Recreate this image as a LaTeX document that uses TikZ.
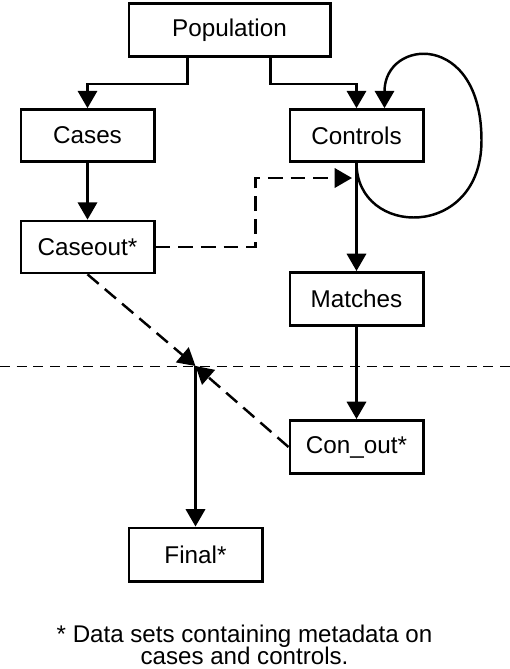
\documentclass[tikz,border=0pt]{standalone}
\usepackage{fontspec}
\setmainfont{Liberation Sans}
\usetikzlibrary{arrows.meta,calc,positioning}

\newcommand{\notefont}{\fontsize{18.1}{16.5}\selectfont\lineskiplimit-8pt\relax}

\tikzset{
  box/.style={draw, line width=2pt, minimum width=100pt, minimum height=39pt, inner sep=0pt, font=\fontsize{18.2}{21}\selectfont},
  flow/.style={line width=1.85pt, -{Triangle[length=13pt,width=14.5pt]}},
  link/.style={flow, dash pattern=on 11pt off 6pt},
  divider/.style={line width=0.7pt, dash pattern=on 7.5pt off 5pt},
}

\begin{document}
\begin{tikzpicture}[x=0.75pt,y=-0.75pt]
            \useasboundingbox (0,0) rectangle (510,669);

            \node[box, minimum width=151pt, minimum height=40pt] (pop) at (229.5,30) {Population};
            \node[box] (cas) at (87.5,135.5) {Cases};
            \node[box] (ctl) at (356.5,135.5) {Controls};
            \node[box] (co) at (87.5,247) {Caseout*};
            \node[box, minimum height=40pt] (mat) at (356.5,299) {Matches};
            \node[box, minimum height=40pt] (con) at (356.5,447) {Con\_out*};
            \node[box, minimum height=40pt] (fin) at (195.5,554.5) {Final*};
            \node[align=center, inner sep=0pt, font=\notefont] (note) at (244.5,645)
                {* Data sets containing metadata on\\cases and controls.};

            \coordinate (j) at (195.5,366);
            \coordinate (mid) at (352,178);

            % divider line
            \draw[divider] (0,366) -- (510,366);

            \draw[flow] ($(pop.south)+(-42,0)$) -- ++(0,26) -| (cas.north);
            \draw[flow] ($(pop.south)+(41,0)$) -- ++(0,26) -| (ctl.north);
            \draw[flow] (cas) -- (co);
            \draw[flow] (ctl) -- (mat);
            \draw[flow] (mat) -- (con);
            \draw[flow] (ctl.south) .. controls ($(ctl.south)+(0,75)$) and ($(ctl.east)+(57,105)$) .. ($(ctl.east)+(57,5)$)
                .. controls ($(ctl.east)+(57,-105)$) and ($(ctl.north)+(28,-70)$) .. ($(ctl.north)+(28,0)$);

            \draw[link] (co.east) -- ++(100,0) |- (mid);
            \draw[link] (co.south) -- (j);
            \draw[link] (con.west) -- (j);
            \draw[flow] (j) -- (fin.north);
        \end{tikzpicture}
\end{document}
